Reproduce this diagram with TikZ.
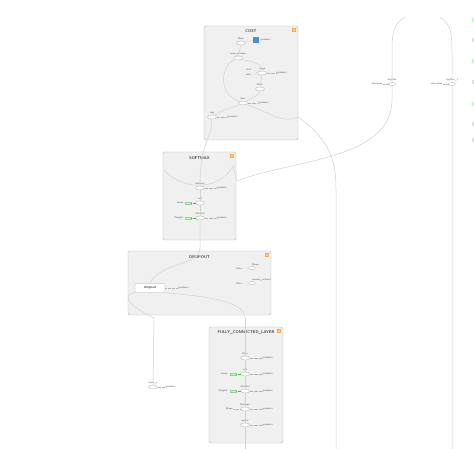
\documentclass[tikz,border=0pt]{standalone}
\usetikzlibrary{shapes.geometric,positioning}
\tikzset{
  grp/.style={draw=gray!55, fill=gray!12, rounded corners=2pt, line width=0.4pt, inner sep=0pt},
  ttl/.style={font=\fontsize{4}{4}\selectfont\sffamily, inner sep=0pt},
  op/.style={ellipse, draw=gray!70, fill=white, line width=0.3pt, minimum width=9pt, minimum height=4pt, inner sep=0pt},
  tag/.style={font=\fontsize{2.5}{2.5}\selectfont\sffamily, text=gray!70!black, inner sep=0.3pt},
  wire/.style={draw=gray!35, line width=0.5pt},
  dots/.style={draw=gray!60, line width=0.3pt, densely dotted},
  var/.style={draw=green!50!black!40, fill=green!25, minimum width=6pt, minimum height=2pt, inner sep=0pt},
  pin/.style={fill=orange!40, draw=orange!70, minimum size=3pt, inner sep=0pt},
  leg/.style={minimum width=3pt, minimum height=4pt, inner sep=0pt}
}
\begin{document}
\begin{tikzpicture}[x=1pt,y=-1pt]
\useasboundingbox[fill=white] (0,0) rectangle (474,449);
% groups
\node[grp, minimum width=94pt, minimum height=114pt] (cost) at (251,83) {};
\node[grp, minimum width=73pt, minimum height=88pt] (softmax) at (199.5,196) {};
\node[grp, minimum width=143pt, minimum height=64pt] (dropout) at (199.5,283) {};
\node[grp, minimum width=74pt, minimum height=116pt] (fc) at (246,385) {};
\node[pin] (costP) at (294,30) {};
\node[pin] (smxP) at (232,156) {};
\node[pin] (dropP) at (267,255) {};
\node[pin] (fcP) at (279,331) {};
\node[ttl] (costT) at (251,31) {COST};
\node[ttl] (smxT) at (199.5,158) {SOFTMAX};
\node[ttl] (dropT) at (199.5,257) {DROPOUT};
\node[ttl] (fcT) at (246,332) {FULLY\_CONNECTED\_LAYER};
% cost
\node[op] (mean) at (241,43) {};
\node[tag, above=0.8pt of mean] (meanL) {Mean};
\node[fill=cyan!55!blue!75, minimum size=5.5pt, inner sep=0pt] (meanG) at (256,40) {};
\node[tag, anchor=west] (meanR) at (260,40) {gradients};
\node[op] (xent) at (238,58) {};
\node[tag, above=0.8pt of xent] (xentL) {cross\_entropy};
\node[op] (range) at (262,73) {};
\node[tag, above=0.8pt of range] (rangeL) {range};
\node[tag, anchor=east] (rangeA) at (252,70) {start};
\node[tag, anchor=east] (rangeB) at (252,75) {delta};
\node[tag, anchor=west] (rangeR) at (276,73) {gradients};
\node[op] (rank) at (260,89) {};
\node[tag, above=0.8pt of rank] (rankL) {Rank};
\node[op] (sum) at (243,103) {};
\node[tag, above=0.8pt of sum] (sumL) {Sum};
\node[tag, anchor=west] (sumR) at (258,103) {gradients};
\node[op] (log) at (212,117) {};
\node[tag, above=0.8pt of log] (logL) {Log};
\node[tag, anchor=west] (logR) at (227,117) {gradients};
\coordinate (costOut) at (298,117);
\draw[wire] (mean) -- (xent);
\draw[wire] (xent.south west) .. controls (220,66) and (218,95) .. (sum.north west);
\draw[wire] (xent.south east) .. controls (256,62) and (262,64) .. (range.north);
\draw[wire] (range) -- (rank);
\draw[wire] (rank.south) .. controls (260,96) and (250,98) .. (sum.north east);
\draw[wire] (sum.south west) .. controls (232,108) and (220,110) .. (log.north east);
\draw[wire] (sum.south east) .. controls (270,112) and (280,124) .. (costOut);
\draw[dots] (meanG) -- (mean);
\draw[dots] (range) -- (rangeR);
\draw[dots] (rangeA.east) -- (range.west);
\draw[dots] (rangeB.east) -- (range.west);
\draw[dots] (sum) -- (sumR);
\draw[dots] (log) -- (logR);
% softmax
\node[op] (smx) at (200,188) {};
\node[tag, above=0.8pt of smx] (smxL) {Softmax};
\node[tag, anchor=west] (smxR) at (216,188) {gradients};
\node[op] (smxAdd) at (200,203) {};
\node[tag, above=0.8pt of smxAdd] (smxAddL) {add};
\node[var] (smxB) at (188,203) {};
\node[tag, anchor=east] (smxBL) at (184,203) {biases};
\node[op] (smxMul) at (200,218) {};
\node[tag, above=0.8pt of smxMul] (smxMulL) {MatMul};
\node[var] (smxW) at (188,218) {};
\node[tag, anchor=east] (smxWL) at (184,218) {Weights};
\node[tag, anchor=west] (smxMulR) at (216,218) {gradients};
\coordinate (smxIn) at (237,181);
\coordinate (smxLeft) at (164,170);
\draw[wire] (log.south) .. controls (212,140) and (200,140) .. (smx.north);
\draw[wire] (smxIn) -- (233,166) .. controls (218,192) and (182,190) .. (smxLeft);
\draw[wire] (smx) -- (smxAdd) -- (smxMul);
\draw[dots] (smx) -- (smxR);
\draw[dots] (smxMul) -- (smxMulR);
\draw[draw=green!50!gray, line width=0.3pt, densely dotted] (smxB) -- (smxAdd);
\draw[draw=green!50!gray, line width=0.3pt, densely dotted] (smxW) -- (smxMul);
% dropout
\node[draw=gray!70, fill=white, rounded corners=1pt, line width=0.3pt, minimum width=30pt, minimum height=9pt, inner sep=0pt,
  font=\fontsize{3.5}{3.5}\selectfont\sffamily] (drop) at (150,288) {dropout};
\node[tag, anchor=west] (dropR) at (178,288) {gradients};
\node[op, minimum width=7pt, minimum height=3pt] (shape) at (252,268) {};
\node[tag, above right=0.3pt and -3pt of shape] (shapeL) {Shape};
\node[tag, anchor=east] (shapeA) at (242,269) {Relu};
\node[op, minimum width=7pt, minimum height=3pt] (unif) at (252,283) {};
\node[tag, above right=0.3pt and -3pt of unif] (unifL) {random\_uniform};
\node[tag, anchor=east] (unifA) at (242,284) {Relu};
\coordinate (dropLeft) at (154,318);
\coordinate (dropRight) at (245,318);
\draw[wire] (smxMul.south) -- (200,248) .. controls (200,266) and (160,262) .. (drop.north);
\draw[wire] (drop.south west) .. controls (120,296) and (130,306) .. (dropLeft);
\draw[wire] (drop.south east) .. controls (200,296) and (245,300) .. (dropRight);
\draw[dots] (drop) -- (dropR);
\draw[dots] (shapeA) -- (shape);
\draw[dots] (unifA) -- (unif);
% fully connected layer
\node[op] (relu) at (245,358) {};
\node[tag, above=0.8pt of relu] (reluL) {Relu};
\node[tag, anchor=west] (reluR) at (262,358) {gradients};
\node[op] (fcAdd) at (245,374) {};
\node[tag, above=0.8pt of fcAdd] (fcAddL) {add};
\node[var] (fcB) at (233,374) {};
\node[tag, anchor=east] (fcBL) at (228,374) {biases};
\node[tag, anchor=west] (fcAddR) at (262,374) {gradients};
\node[op] (fcMul) at (245,391) {};
\node[tag, above=0.8pt of fcMul] (fcMulL) {MatMul};
\node[var] (fcW) at (233,391) {};
\node[tag, anchor=east] (fcWL) at (228,391) {Weights};
\node[tag, anchor=west] (fcMulR) at (262,391) {gradients};
\node[op] (reshape) at (245,409) {};
\node[tag, above=0.8pt of reshape] (reshapeL) {Reshape};
\node[tag, anchor=east] (reshapeA) at (233,409) {Shape};
\node[tag, anchor=west] (reshapeR) at (262,409) {gradients};
\node[op] (concat) at (245,425) {};
\node[tag, above=0.8pt of concat] (concatL) {concat};
\node[tag, anchor=west] (concatR) at (262,425) {gradients};
\coordinate (fcOut) at (245,449);
\draw[wire] (dropRight) -- (relu) -- (fcAdd) -- (fcMul) -- (reshape) -- (concat) -- (fcOut);
\draw[dots] (relu) -- (reluR);
\draw[dots] (fcAdd) -- (fcAddR);
\draw[dots] (fcMul) -- (fcMulR);
\draw[dots] (reshape) -- (reshapeR);
\draw[dots] (concat) -- (concatR);
\draw[dots] (reshapeA) -- (reshape);
\draw[draw=green!50!gray, line width=0.3pt, densely dotted] (fcB) -- (fcAdd);
\draw[draw=green!50!gray, line width=0.3pt, densely dotted] (fcW) -- (fcMul);
% input
\node[op] (input) at (153,387) {};
\node[tag, above=0.8pt of input] (inputL) {input\_x};
\node[tag, anchor=west] (inputR) at (165,387) {gradients};
\draw[wire] (dropLeft) -- (input);
\draw[dots] (input) -- (inputR);
% argmax
\node[op, minimum width=7pt, minimum height=3pt] (am) at (392,84) {};
\node[tag, above=0.5pt of am] (amL) {ArgMax};
\node[tag, anchor=east] (amA) at (383,84) {dimension};
\node[op, minimum width=7pt, minimum height=3pt] (am2) at (452,84) {};
\node[tag, above=0.5pt of am2] (am2L) {ArgMax\_1};
\node[tag, anchor=east] (am2A) at (443,84) {dimension};
\coordinate (amTop) at (405,17);
\coordinate (am2Top) at (440,17);
\coordinate (am2Out) at (452,449);
\coordinate (costDown) at (336,449);
\draw[wire] (amTop) .. controls (392,25) and (392,35) .. (392,55) -- (am);
\draw[wire] (am.south) -- (392,100) .. controls (392,160) and (290,160) .. (smxIn);
\draw[wire] (am2Top) .. controls (452,25) and (452,35) .. (452,55) -- (am2) -- (am2Out);
\draw[wire] (costOut) .. controls (330,140) and (336,160) .. (336,190) -- (costDown);
\draw[dots] (amA) -- (am);
\draw[dots] (am2A) -- (am2);
% legend edge
\foreach \yy/\cc in {20/green!25, 40/gray!25, 61/green!25, 82/gray!25, 104/green!25, 124/gray!25, 140/gray!25}
  \node[leg, fill=\cc] at (473,\yy) {};
\end{tikzpicture}
\end{document}
